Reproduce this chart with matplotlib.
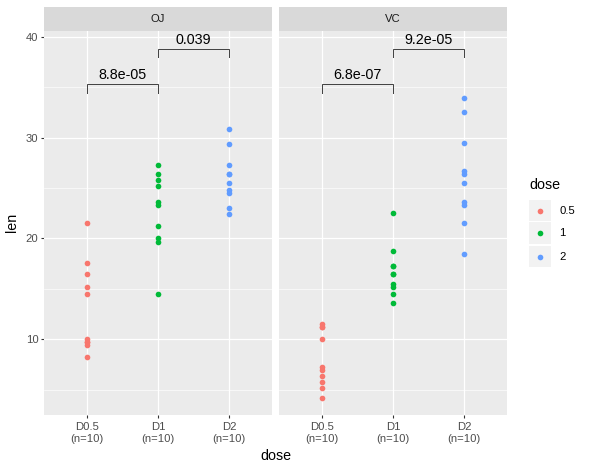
import matplotlib
matplotlib.use("Agg")
import matplotlib.pyplot as plt
from matplotlib.patches import Rectangle
import numpy as np

plt.rcParams['font.family'] = ['Liberation Sans', 'DejaVu Sans']

# ---- data (ToothGrowth) ----
supps = ["OJ", "VC"]
doses = ["0.5", "1", "2"]
tick_labels = ["D0.5\n(n=10)", "D1\n(n=10)", "D2\n(n=10)"]
oj_05 = [15.2, 21.5, 17.6, 9.7, 14.5, 10.0, 8.2, 9.4, 16.5, 9.7]
oj_1 = [19.7, 23.3, 23.6, 26.4, 20.0, 25.2, 25.8, 21.2, 14.5, 27.3]
oj_2 = [25.5, 26.4, 22.4, 24.5, 24.8, 30.9, 26.4, 27.3, 29.4, 23.0]
vc_05 = [4.2, 11.5, 7.3, 5.8, 6.4, 10.0, 11.2, 11.2, 5.2, 7.0]
vc_1 = [16.5, 16.5, 15.2, 17.3, 22.5, 17.3, 13.6, 14.5, 18.8, 15.5]
vc_2 = [23.6, 18.5, 33.9, 25.5, 26.4, 32.5, 26.7, 21.5, 23.3, 29.5]
pvals_oj = ["8.8e-05", "0.039"]   # D0.5 vs D1, D1 vs D2
pvals_vc = ["6.8e-07", "9.2e-05"]

data = {"OJ": [oj_05, oj_1, oj_2], "VC": [vc_05, vc_1, vc_2]}
pvals = {"OJ": pvals_oj, "VC": pvals_vc}
colors = ["#F8766D", "#00BA38", "#619CFF"]

W, H = 590, 471
fig = plt.figure(figsize=(W / 72, H / 72), dpi=72)

def px_axes(x0, y0, x1, y1):
    return fig.add_axes([x0 / W, 1 - y1 / H, (x1 - x0) / W, (y1 - y0) / H])

FS_SMALL = 11.2
FS_BIG = 14.3
panel_top, panel_bot = 30.7, 415.0
panels_x = [(44.3, 272.0), (279.3, 506.7)]
ylo, yhi = 2.49, 40.61
bracket_y = [35.33, 38.83]
tip = 0.86

for i, s in enumerate(supps):
    x0, x1 = panels_x[i]
    ax = px_axes(x0, panel_top, x1, panel_bot)
    ax.set_facecolor("#EBEBEB")
    for sp in ax.spines.values():
        sp.set_visible(False)
    ax.set_xlim(0.4, 3.6)
    ax.set_ylim(ylo, yhi)
    # grid
    for yv in [5, 15, 25, 35]:
        ax.axhline(yv, color="white", lw=0.65, zorder=0.5)
    for yv in [10, 20, 30, 40]:
        ax.axhline(yv, color="white", lw=1.3, zorder=0.6)
    for xv in [1, 2, 3]:
        ax.axvline(xv, color="white", lw=1.3, zorder=0.6)
    for j, vals in enumerate(data[s]):
        ax.scatter(np.full(len(vals), j + 1), vals, s=32, color=colors[j],
                   linewidths=0, zorder=3)
    # brackets
    for k, (a, b) in enumerate([(1, 2), (2, 3)]):
        yb = bracket_y[k]
        ax.plot([a, a, b, b], [yb - tip, yb, yb, yb - tip], color="#444444",
                lw=1.0, zorder=4, solid_joinstyle="miter")
        ax.text((a + b) / 2, yb + 0.15, pvals[s][k], ha="center", va="bottom",
                fontsize=FS_BIG, color="black", zorder=5)
    ax.set_xticks([1, 2, 3])
    ax.set_xticklabels(tick_labels, fontsize=FS_SMALL, color="#4D4D4D", linespacing=1.3)
    ax.set_yticks([10, 20, 30, 40])
    if i == 0:
        ax.set_yticklabels(["10", "20", "30", "40"], fontsize=FS_SMALL, color="#4D4D4D")
        ax.tick_params(axis="y", length=3.3, width=1.1, color="#333333", pad=2.5)
    else:
        ax.tick_params(axis="y", length=0, labelleft=False)
    ax.tick_params(axis="x", length=3.3, width=1.1, color="#333333", pad=3.5)
    ax.set_axisbelow(True)
    # strip
    sax = px_axes(x0, 7.3, x1, panel_top)
    sax.set_facecolor("#D9D9D9")
    for sp in sax.spines.values():
        sp.set_visible(False)
    sax.set_xticks([]); sax.set_yticks([])
    sax.text(0.5, 0.5, s, ha="center", va="center", fontsize=FS_SMALL,
             color="#1A1A1A", transform=sax.transAxes)

fig.text(275.5 / W, 1 - 460.5 / H, "dose", ha="center", va="baseline", fontsize=FS_BIG)
fig.text(12 / W, 1 - 222 / H, "len", ha="center", va="center", fontsize=FS_BIG,
         rotation=90)

# legend
lax = px_axes(520, 170, 590, 270)
lax.set_xlim(520, 590)
lax.set_ylim(270, 170)
lax.axis("off")
lax.text(529.3, 185, "dose", ha="left", va="center", fontsize=FS_BIG)
key_c = [210.7, 233.0, 256.7]
for j, d in enumerate(doses):
    yc = key_c[j]
    lax.add_patch(Rectangle((529.3, yc - 10.7), 21.4, 21.4, facecolor="#F2F2F2",
                            edgecolor="none"))
    lax.scatter([529.3 + 10.7], [yc], s=32, color=colors[j], linewidths=0)
    lax.text(559.3, yc, d, ha="left", va="center", fontsize=FS_SMALL, color="black")

fig.savefig("out.png", dpi=72)
